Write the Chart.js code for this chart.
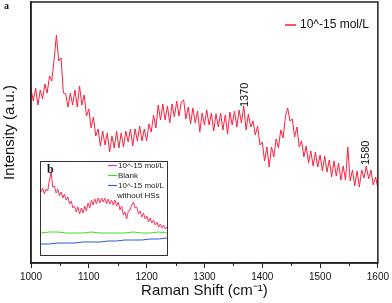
<!DOCTYPE html>
<html>
<head>
<meta charset="utf-8">
<script src="https://cdn.jsdelivr.net/npm/chart.js@4/dist/chart.umd.min.js"></script>
<style>
html,body{margin:0;padding:0;background:#fff;}
#wrap{position:relative;width:392px;height:303px;}
#main{position:absolute;left:0;top:0;}
#insetBox{position:absolute;left:40px;top:161px;width:128px;height:95px;box-sizing:border-box;border:1px solid #333;background:#fff;}
#inset{display:block;}
</style>
</head>
<body>
<div id="wrap">
<canvas id="main" width="392" height="303"></canvas>
<div id="insetBox"><canvas id="inset" width="126" height="93"></canvas></div>
</div>
<script>
// ---- data ----
const shiftStart = 1000;          // cm^-1
const mainStep = 4;               // spacing of main spectrum samples
const mainIntensity = [
174,162,175,158,173,164,179,170,187,182,
204,228,202,205,170,169,156,170,158,173,
156,177,158,168,147,154,135,146,127,134,
117,132,118,130,111,127,115,132,115,130,
116,132,121,134,117,134,122,137,122,134,
122,139,131,148,135,158,143,159,143,157,
140,159,146,162,147,161,163,144,156,139,
155,140,152,131,150,138,153,138,150,132,
149,136,150,133,148,129,151,138,152,136,
153,140,157,133,149,136,142,128,137,118,
121,102,116,96,116,106,124,115,133,125,
146,155,142,144,126,136,116,122,106,117,
100,112,97,111,96,108,92,107,91,103,
86,102,87,100,83,97,83,116,82,93,
77,92,76,93,85,97,84,93,78,86,
75];
const insetStep = 8;
const insetSample = [
64,68,62,67,65,76,84,69,70,63,
67,60,64,58,62,56,59,52,55,48,
50,44,49,42,48,43,50,45,53,48,
56,51,57,52,58,53,58,54,58,52,
57,52,56,51,56,50,54,46,50,41,
44,37,45,46,51,54,48,49,42,45,
39,43,37,40,34,38,33,36,31,34,
29,32,28,31,27,29];
const flatStep = 40;
const insetBlank = [23,24,24,23,23,23,24,23,23,23,23,24,23,23,24,23];
const insetNoHS  = [12,12,13,13,13,14,14,14,15,15,16,16,16,17,17,18];
const xTicks = [1000,1100,1200,1300,1400,1500,1600];
const xMinor = [1050,1150,1250,1350,1450,1550];
const peakLabels = ['1370','1580'];
const peakPos = [1370,1580];
const peakBase = [156,98];
const mainLegend = '10^-15 mol/L';
const insetLegend = ['10^-15 mol/L','Blank','10^-15 mol/L','without HSs'];

const toXY = (arr, step) => arr.map((v,i)=>({x: shiftStart + i*step, y: v}));
const FONT = '"Liberation Sans", Arial, sans-serif';

const mainDecor = {
  id:'mainDecor',
  afterDraw(chart){
    const {ctx, chartArea:a, scales:{x,y}} = chart;
    ctx.save();
    ctx.strokeStyle='#222'; ctx.lineWidth=1.5;
    ctx.strokeRect(a.left, a.top, a.right-a.left, a.bottom-a.top);
    ctx.lineWidth=1;
    xMinor.forEach(v=>{const px=Math.round(x.getPixelForValue(v))+0.5;ctx.beginPath();ctx.moveTo(px,a.bottom);ctx.lineTo(px,a.bottom+3);ctx.stroke();});
    ctx.fillStyle='#111'; ctx.font='11px '+FONT;
    peakLabels.forEach((t,i)=>{
      ctx.save();
      ctx.translate(x.getPixelForValue(peakPos[i]), y.getPixelForValue(peakBase[i]));
      ctx.rotate(-Math.PI/2);
      ctx.textAlign='left'; ctx.textBaseline='middle';
      ctx.fillText(t,0,0);
      ctx.restore();
    });
    // legend
    ctx.strokeStyle='rgb(255,30,60)'; ctx.lineWidth=1.5;
    ctx.beginPath(); ctx.moveTo(285,25); ctx.lineTo(296,25); ctx.stroke();
    ctx.fillStyle='#111'; ctx.font='12px '+FONT; ctx.textAlign='left'; ctx.textBaseline='middle';
    ctx.fillText(mainLegend,300,25);
    // panel label
    ctx.font='bold 10px "Liberation Serif", "DejaVu Serif", serif';
    ctx.fillText('a',4,6);
    ctx.restore();
  }
};

new Chart(document.getElementById('main'),{
  type:'line',
  data:{datasets:[{data:toXY(mainIntensity,mainStep),borderColor:'rgb(255,30,60)',borderWidth:1,pointRadius:0,tension:0}]},
  options:{
    responsive:false, animation:false,
    layout:{padding:{top:2,right:12,left:0,bottom:0}},
    plugins:{legend:{display:false},tooltip:{enabled:false}},
    scales:{
      x:{type:'linear',min:1000,max:1600,
         afterBuildTicks(s){s.ticks=xTicks.map(v=>({value:v}));},
         afterFit(s){s.height=40;},
         ticks:{color:'#111',font:{family:FONT,size:10},padding:3,maxRotation:0,callback:(v)=>String(v)},
         grid:{display:true,drawOnChartArea:false,drawTicks:true,tickLength:5,color:'#222'},
         border:{display:true,color:'#222',width:1.5},
         title:{display:true,text:'Raman Shift (cm\u207B\u00B9)',color:'#111',font:{family:FONT,size:15},padding:{top:0,bottom:3}}},
      y:{min:0,max:261,
         afterFit(s){s.width=31;},
         ticks:{display:false},
         grid:{display:false},
         border:{display:true,color:'#222',width:1.5},
         title:{display:true,text:'Intensity (a.u.)',color:'#111',font:{family:FONT,size:15},padding:{top:1,bottom:0}}}
    }
  },
  plugins:[mainDecor]
});

const insetDecor = {
  id:'insetDecor',
  afterDraw(chart){
    const ctx=chart.ctx;
    ctx.save();
    ctx.font='bold 12px "Liberation Serif", "DejaVu Serif", serif';
    ctx.fillStyle='#111'; ctx.textBaseline='middle'; ctx.textAlign='left';
    ctx.fillText('b',6,8);
    const cols=['#c040c8','#44dd22','#3355dd'];
    const ys=[3,13,23];
    ctx.lineWidth=1.2;
    cols.forEach((c,i)=>{ctx.strokeStyle=c;ctx.beginPath();ctx.moveTo(67,ys[i]+0.5);ctx.lineTo(76,ys[i]+0.5);ctx.stroke();});
    ctx.font='8px '+FONT; ctx.fillStyle='#222';
    ctx.fillText(insetLegend[0],77,4);
    ctx.fillText(insetLegend[1],77,14);
    ctx.fillText(insetLegend[2],77,24);
    ctx.fillText(insetLegend[3],76,34);
    ctx.restore();
  }
};

new Chart(document.getElementById('inset'),{
  type:'line',
  data:{datasets:[
    {data:toXY(insetSample,insetStep),borderColor:'rgb(255,50,90)',borderWidth:1,pointRadius:0,tension:0},
    {data:toXY(insetBlank,flatStep),borderColor:'#44dd22',borderWidth:1,pointRadius:0,tension:0},
    {data:toXY(insetNoHS,flatStep),borderColor:'#3355dd',borderWidth:1,pointRadius:0,tension:0}
  ]},
  options:{
    responsive:false, animation:false,
    layout:{padding:0},
    plugins:{legend:{display:false},tooltip:{enabled:false}},
    scales:{
      x:{type:'linear',display:false,min:1000,max:1600},
      y:{display:false,min:1,max:94}
    }
  },
  plugins:[insetDecor]
});
</script>
</body>
</html>
